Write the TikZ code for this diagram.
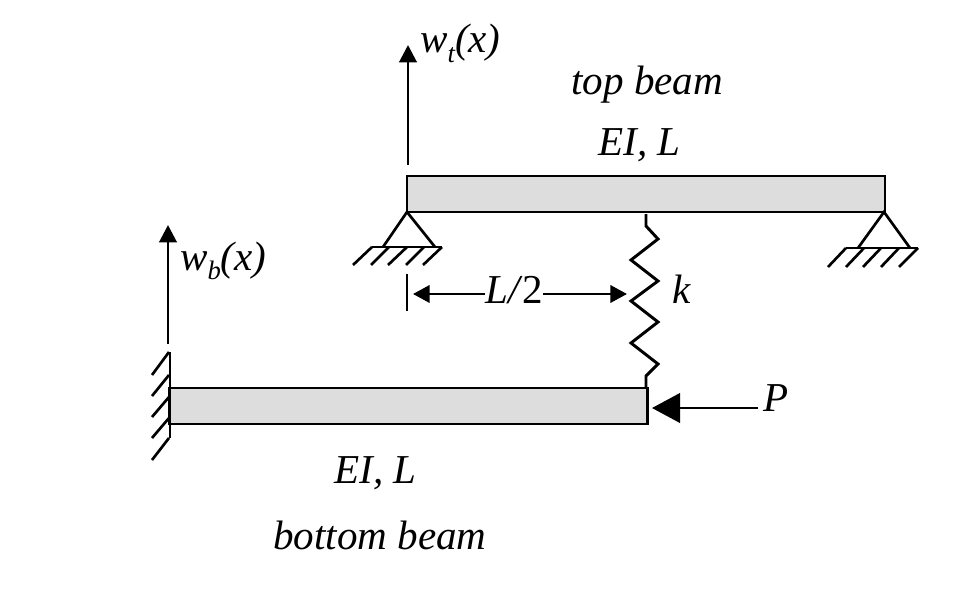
\documentclass[tikz,border=0pt]{standalone}
\usepackage{fontspec}
\setmainfont{Liberation Serif}
\usetikzlibrary{arrows.meta}
\definecolor{beamgray}{gray}{0.867}
\newcommand{\lowsub}[1]{\raisebox{-0.24em}{\fontsize{20pt}{20pt}\selectfont #1}}
\tikzset{
  x=0.75pt,y=-0.75pt,
  beam/.style={draw=black,fill=beamgray,line width=2.1pt,rectangle,inner sep=0pt,minimum height=27pt,minimum width=358.5pt},
  ln/.style={draw=black,line width=2.2pt},
  thin ln/.style={draw=black,line width=2pt},
  hatch/.style={draw=black,line width=2pt},
  tiplbl/.style={-{Triangle[length=13pt,width=13pt]},draw=black,line width=2.2pt},
  dimtip/.style={-{Triangle[length=12.5pt,width=13pt]},draw=black,line width=2pt},
  bigtip/.style={-{Triangle[length=21pt,width=22pt]},draw=black,line width=2.2pt},
  lbl/.style={inner sep=0pt,anchor=base west,font=\fontsize{30.8pt}{30.8pt}\selectfont\itshape},
}
\begin{document}
\begin{tikzpicture}
\useasboundingbox (0,0) rectangle (962,606);
% beams
\node[beam] (top) at (646,194) {};
\node[beam] (bot) at (408.5,406) {};
% named points
\coordinate (wtbase) at (408,165);
\coordinate (wttip) at (408,45);
\coordinate (wbbase) at (168,344);
\coordinate (wbtip) at (168,225);
\coordinate (tl) at (407,212);
\coordinate (tr) at (884,212);
% up arrows
\draw[tiplbl] (wtbase) -- (wttip);
\draw[tiplbl] (wbbase) -- (wbtip);
% left support
\draw[thin ln,line join=miter] (383,247) -- (tl) -- (435,247);
\draw[hatch] (372,247) -- (442,247);
\foreach \a/\b in {372/353,389/371,407/388,424/406,442/423}
  \draw[hatch] (\a,247) -- (\b,265);
% right support
\draw[thin ln,line join=miter] (858,248) -- (tr) -- (910,248);
\draw[hatch] (846,248) -- (918,248);
\foreach \a/\b in {846/828,864/846,881/863,899/881,918/899}
  \draw[hatch] (\a,248) -- (\b,267);
% wall
\draw[ln] (170,352) -- (170,438);
\draw[hatch] (169,352) -- (152,375);
\draw[hatch] (169,375) -- (152,396);
\draw[hatch] (169,397) -- (152,417);
\draw[hatch] (169,418) -- (152,438);
\draw[hatch] (169,438) -- (152,460);
% spring
\draw[ln,line join=miter] (646,214) -- (646,226) -- (658,239) -- (631,260) -- (658,281) -- (631,301)
  -- (658,322) -- (631,343) -- (658,364) -- (646,376) -- (646,388);
% dimension
\coordinate (dimL) at (413,294);
\coordinate (dimR) at (627,294);
\node[lbl] (half) at (485,303) {L/\textup{2}};
\draw[thin ln] (407,274) -- (407,311);
\draw[dimtip] (half.west |- dimL) -- (dimL);
\draw[dimtip] (half.east |- dimR) -- (dimR);
% load
\coordinate (Ptip) at (652,408);
\node[lbl] (P) at (763,411) {P};
\draw[bigtip] (758,408) -- (Ptip);
% labels
\node[lbl] (wt) at (420,53) {w\lowsub{t}(x)};
\node[lbl] (wb) at (180,270) {w\lowsub{b}(x)};
\node[lbl] (topname) at (571,95) {top beam};
\node[lbl] (topei) at (598,156) {EI, L};
\node[lbl] (k) at (672,303) {k};
\node[lbl] (botei) at (334,483) {EI, L};
\node[lbl] (botname) at (273,549) {bottom beam};
\end{tikzpicture}
\end{document}
